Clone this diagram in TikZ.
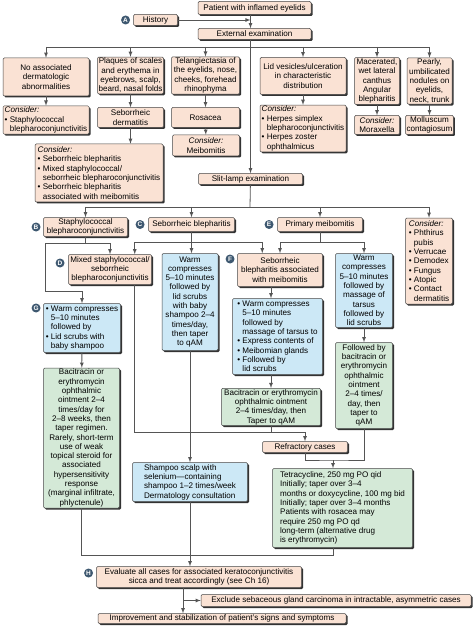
\documentclass[tikz,border=0pt]{standalone}
\usepackage{fontspec}
\setmainfont{Liberation Sans}
\usepackage{tikz}
\usetikzlibrary{shapes,arrows,positioning,shadows}
\definecolor{peachfill}{RGB}{250, 226, 212}
\definecolor{bluefill}{RGB}{204, 232, 246}
\definecolor{greenfill}{RGB}{212, 233, 215}
\definecolor{boxline}{RGB}{70, 70, 70}
\definecolor{linegray}{RGB}{85, 85, 85}
\definecolor{lettercol}{RGB}{62, 88, 112}
\newcommand{\bitem}{\textbullet\ }
\newcommand{\bcont}{\hphantom{\textbullet\ }}
\tikzstyle{dxbox} = [rectangle, rounded corners=1.2pt, draw=boxline, line width=0.5pt, fill=peachfill, drop shadow={shadow xshift=1.5pt, shadow yshift=-1.5pt, fill=black!80, opacity=1}, text=black, align=center, font=\fontsize{8.1}{9.3}\selectfont, inner xsep=1pt, inner ysep=1pt]
\tikzstyle{rxbox} = [dxbox, fill=bluefill]
\tikzstyle{medbox} = [dxbox, fill=greenfill]
\tikzstyle{letter} = [circle, fill=lettercol, text=white, font=\bfseries\fontsize{6.5}{6.5}\selectfont, inner sep=0pt, minimum size=9pt]
\tikzstyle{tedge}  = [draw=linegray, line width=0.8pt, >=latex, ->]
\tikzstyle{nedge}  = [draw=linegray, line width=0.8pt]

\begin{document}
\begin{tikzpicture}[x=1pt, y=-1pt]
\useasboundingbox (0,0) rectangle (474,628);
\fill[white] (0,0) rectangle (474,628);
%examination=========================

\node[dxbox, minimum width=113pt, minimum height=13pt] (patient) at (254.5,8) {Patient with inflamed eyelids};
\node[dxbox, minimum width=44pt, minimum height=11pt] (history) at (155.5,20) {History};
\node[dxbox, minimum width=113pt, minimum height=11pt] (extexam) at (254.5,34) {External examination};
\node[letter, left=3pt of history] (la) {A};

\node[dxbox, minimum width=86pt, minimum height=38pt] (nodeam) at (46,77) {No associated\\dermatologic\\abnormalities};
\node[dxbox, minimum width=66pt, minimum height=36pt] (plaques) at (130.5,75.5) {Plaques of scales\\and erythema in\\eyebrows, scalp,\\beard, nasal folds};
\node[dxbox, minimum width=68pt, minimum height=36pt] (telang) at (205.5,75.5) {Telangiectasia of\\the eyelids, nose,\\cheeks, forehead\\rhinophyma};
\node[dxbox, minimum width=86pt, minimum height=37pt] (lidves) at (303,76) {Lid vesicles/ulceration\\in characteristic\\distribution};
\node[dxbox, minimum width=45pt, minimum height=46pt] (macer) at (377,81) {Macerated,\\wet lateral\\canthus\\Angular\\blepharitis};
\node[dxbox, minimum width=45pt, minimum height=46pt] (pearly) at (429.5,81) {Pearly,\\umbilicated\\nodules on\\eyelids,\\neck, trunk};

\node[dxbox, minimum width=86pt, minimum height=28pt, align=left] (consstaph) at (46,120) {\textit{Consider:}\\\bitem Staphylococcal\\\bcont blepharoconjunctivitis};
\node[dxbox, minimum width=66pt, minimum height=20pt] (sebderm) at (130.5,117.5) {Seborrheic\\dermatitis};
\node[dxbox, minimum width=68pt, minimum height=20pt] (rosacea) at (205.5,117.5) {Rosacea};
\node[dxbox, minimum width=67pt, minimum height=21pt] (consmeib) at (206,145.5) {\textit{Consider:}\\Meibomitis};
\node[dxbox, minimum width=86pt, minimum height=45pt, align=left] (consherpes) at (303,128.5) {\textit{Consider:}\\\bitem Herpes simplex\\\bcont blepharoconjunctivitis\\\bitem Herpes zoster\\\bcont ophthalmicus};
\node[dxbox, minimum width=45pt, minimum height=19pt] (consmorax) at (377,125) {\textit{Consider:}\\Moraxella};
\node[dxbox, minimum width=45pt, minimum height=19pt] (mollusc) at (429.5,125) {Molluscum\\contagiosum};
\node[dxbox, minimum width=128pt, minimum height=58pt, align=left] (consseb) at (99,173) {\textit{Consider:}\\\bitem Seborrheic blepharitis\\\bitem Mixed staphylococcal/\\\bcont seborrheic blepharoconjunctivitis\\\bitem Seborrheic blepharitis\\\bcont associated with meibomitis};

\node[dxbox, minimum width=104pt, minimum height=11pt] (slit) at (250.5,179) {Slit-lamp examination};

%diagnoses=========================

\node[dxbox, minimum width=84pt, minimum height=19pt] (staph) at (85.5,227) {Staphylococcal\\blepharoconjunctivitis};
\node[dxbox, minimum width=86pt, minimum height=14pt] (sebbleph) at (191.5,224.5) {Seborrheic blepharitis};
\node[dxbox, minimum width=85pt, minimum height=14pt] (primmeib) at (320,224.5) {Primary meibomitis};
\node[dxbox, minimum width=47pt, minimum height=86pt, align=left] (consother) at (429,261) {\textit{Consider:}\\\bitem Phthirus\\\bcont pubis\\\bitem Verrucae\\\bitem Demodex\\\bitem Fungus\\\bitem Atopic\\\bitem Contact\\\bcont dermatitis};
\node[letter, left=2.5pt of staph] (lb) {B};
\node[letter, left=3.5pt of sebbleph] (lc) {C};
\node[letter, left=3.5pt of primmeib] (le) {E};

\node[dxbox, minimum width=83pt, minimum height=30pt] (mixed) at (110,269.5) {Mixed staphylococcal/\\seborrheic\\blepharoconjunctivitis};
\node[dxbox, minimum width=85pt, minimum height=33pt] (sebmeib) at (280,270) {Seborrheic\\blepharitis associated\\with meibomitis};
\node[letter, left=3.5pt of mixed, yshift=6.5pt] (ld) {D};
\node[letter, left=2.5pt of sebmeib, yshift=11pt] (lf) {F};

%treatment=========================

\node[rxbox, minimum width=56pt, minimum height=97pt] (cblue) at (190,302) {Warm\\compresses\\5–10 minutes\\followed by\\lid scrubs\\with baby\\shampoo 2–4\\times/day,\\then taper\\to qAM};
\node[rxbox, minimum width=57pt, minimum height=74pt] (eblue) at (364,290.5) {Warm\\compresses\\5–10 minutes\\followed by\\massage of\\tarsus\\followed by\\lid scrubs};
\node[rxbox, minimum width=77pt, minimum height=49pt, align=left] (gblue) at (82,328) {\bitem Warm compresses\\\bcont 5–10 minutes\\\bcont followed by\\\bitem Lid scrubs with\\\bcont baby shampoo};
\node[rxbox, minimum width=90pt, minimum height=76pt, align=left] (fblue) at (277.5,336.5) {\bitem Warm compresses\\\bcont 5–10 minutes\\\bcont followed by\\\bcont massage of tarsus to\\\bitem Express contents of\\\bitem Meibomian glands\\\bitem Followed by\\\bcont lid scrubs};
\node[letter, left=2.5pt of gblue, yshift=20pt] (lg) {G};

\node[medbox, minimum width=57pt, minimum height=86pt] (egreen) at (364,385.5) {Followed by\\bacitracin or\\erythromycin\\ophthalmic\\ointment\\2–4 times/\\day, then\\taper to\\qAM};
\node[medbox, minimum width=99pt, minimum height=37pt] (fgreen) at (271,407) {Bacitracin or erythromycin\\ophthalmic ointment\\2–4 times/day, then\\Taper to qAM};
\node[medbox, minimum width=76pt, minimum height=140pt] (ggreen) at (81.5,438) {Bacitracin or\\erythromycin\\ophthalmic\\ointment 2–4\\times/day for\\2–8 weeks, then\\taper regimen.\\Rarely, short-term\\use of weak\\topical steroid for\\associated\\hypersensitivity\\response\\(marginal infiltrate,\\phlyctenule)};
\node[dxbox, minimum width=85pt, minimum height=11pt] (refract) at (305,447) {Refractory cases};
\node[rxbox, minimum width=115pt, minimum height=39pt, align=left] (shampoo) at (190,482) {Shampoo scalp with\\selenium—containing\\shampoo 1–2 times/week\\Dermatology consultation};
\node[medbox, minimum width=140pt, minimum height=79pt, align=left] (tetra) at (342.5,508) {Tetracycline, 250 mg PO qid\\Initially; taper over 3–4\\months or doxycycline, 100 mg bid\\Initially; taper over 3–4 months\\Patients with rosacea may\\require 250 mg PO qd\\long-term (alternative drug\\is erythromycin)};

%outcome=========================

\node[dxbox, minimum width=205pt, minimum height=21pt] (hbox) at (199,577) {Evaluate all cases for associated keratoconjunctivitis\\sicca and treat accordingly (see Ch 16)};
\node[dxbox, minimum width=270pt, minimum height=12pt] (exclude) at (336,600.5) {Exclude sebaceous gland carcinoma in intractable, asymmetric cases};
\node[dxbox, minimum width=248pt, minimum height=10pt] (improve) at (222,618.5) {Improvement and stabilization of patient's signs and symptoms};
\node[letter, left=3pt of hbox, yshift=4pt] (lh) {H};

% junctions
\coordinate (bus1) at (250,47);
\coordinate (bus2) at (250,207);
\coordinate (rbus) at (0,432);
\coordinate (tbus) at (333,460);
\coordinate (hbus) at (190,555);
\coordinate (hsplit) at (183,600.5);

% edges
\path[tedge] (history) -- (history -| slit);
\path[tedge] (patient.south -| slit) -- (extexam.north -| slit);
\path[tedge] (extexam.south -| slit) -- (slit.north);
\path[nedge] (bus1 -| nodeam) -- (bus1 -| pearly);
\foreach \n in {nodeam,plaques,telang,lidves,macer,pearly}
  \path[tedge] (bus1 -| \n) -- (\n.north);
\path[tedge] (nodeam) -- (consstaph);
\path[tedge] (plaques) -- (sebderm);
\path[tedge] (telang) -- (rosacea);
\path[tedge] (rosacea) -- (consmeib);
\path[tedge] (lidves) -- (consherpes);
\path[tedge] (macer) -- (consmorax);
\path[tedge] (pearly) -- (mollusc);
\path[tedge] (sebderm) -- (sebderm |- consseb.north);

\path[nedge] (slit) -- (bus2);
\path[nedge] (bus2 -| staph) -- (bus2 -| consother);
\foreach \n in {staph,sebbleph,primmeib,consother}
  \path[tedge] (bus2 -| \n) -- (\n.north);

\path[tedge] (staph.south) -- ++(0,7) coordinate (bsplit) -| (mixed.north);
\path[tedge] (bsplit) -| ++(-40,48) -| (gblue.north);
\path[nedge] (sebbleph.south) -- ++(0,11) coordinate (csplit);
\path[tedge] (csplit) -| ([xshift=-17pt]mixed.north east);
\path[tedge] (csplit) -- (csplit |- cblue.north);
\path[tedge] (csplit) -| ([xshift=25pt]sebmeib.north west);
\path[nedge] (primmeib.south) -- ++(0,11) coordinate (esplit);
\path[tedge] (esplit) -| (sebmeib.north);
\path[tedge] (esplit) -| (eblue.north);

\path[tedge] (gblue) -- (ggreen);
\path[tedge] (sebmeib.south -| fgreen) -- (fblue.north -| fgreen);
\path[tedge] (fblue.south -| fgreen) -- (fgreen.north);
\path[tedge] (eblue) -- (egreen);
\path[tedge] (cblue) -- (cblue |- shampoo.north);
\path[tedge] ([xshift=-17pt]mixed.south east) |- (rbus -| refract) -- (refract.north);
\path[nedge] (fgreen.south) -- (fgreen.south |- rbus);
\path[nedge] (refract.south) |- (tbus) -| (egreen.south);
\path[tedge] (tbus) -- (tbus |- tetra.north);

\path[nedge] (ggreen.south) |- (hbus);
\path[nedge] (tetra.south -| tbus) |- (hbus);
\path[tedge] (shampoo) -- (shampoo |- hbox.north);
\path[tedge] (hbox.south -| hsplit) -- (improve.north -| hsplit);
\path[tedge] (hsplit) -- (exclude.west);

\end{tikzpicture}
\end{document}
